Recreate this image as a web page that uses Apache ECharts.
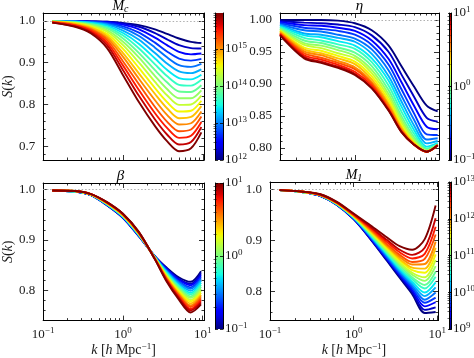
<!DOCTYPE html>
<html><head><meta charset="utf-8">
<script src="https://cdn.jsdelivr.net/npm/echarts@6/dist/echarts.min.js"></script>
<style>html,body{margin:0;padding:0;background:#fff}#c{width:474px;height:358px}</style>
</head><body><div id="c"></div>
<script>
// ---------------- data ----------------
const K = [0.13, 0.2512, 0.3981, 0.631, 1.0, 1.585, 2.512, 3.548, 5.012, 7.079, 9.55];

// panel M_c (lines ordered 10^12 -> 10^16)
const MC_CURVES = [
 [1.000,1.000,.999,.998,.995,.990,.980,.969,.958,.950,.947],
 [1.000,1.000,.999,.998,.994,.986,.971,.956,.942,.935,.934],
 [1.000,1.000,.998,.997,.991,.980,.960,.942,.926,.920,.922],
 [1.000,.999,.998,.995,.987,.972,.948,.927,.910,.905,.909],
 [1.000,.999,.997,.993,.983,.964,.936,.913,.894,.890,.897],
 [1.000,.998,.996,.991,.977,.955,.923,.898,.879,.875,.884],
 [.999,.998,.995,.988,.971,.945,.910,.883,.863,.860,.871],
 [.999,.997,.993,.985,.965,.934,.896,.868,.847,.845,.859],
 [.999,.996,.992,.982,.958,.923,.882,.853,.831,.830,.846],
 [.999,.996,.990,.978,.950,.912,.868,.837,.815,.815,.834],
 [.998,.995,.988,.974,.942,.900,.854,.822,.799,.800,.821],
 [.998,.994,.986,.969,.933,.887,.839,.806,.783,.785,.809],
 [.998,.993,.984,.964,.923,.874,.825,.791,.767,.770,.796],
 [.998,.991,.981,.959,.914,.861,.810,.775,.752,.755,.783],
 [.997,.990,.979,.954,.903,.848,.794,.759,.736,.740,.771],
 [.997,.989,.976,.948,.893,.834,.779,.744,.720,.725,.758],
 [.996,.987,.973,.942,.882,.820,.764,.728,.704,.710,.746],
 [.996,.986,.970,.935,.870,.805,.748,.712,.688,.695,.733]
];
// panel eta (lines ordered 10^-1 -> 10^1)
const ETA_CURVES = [
 [1.000,1.000,1.000,.999,.995,.984,.960,.928,.896,.866,.857],
 [.998,.996,.995,.993,.989,.976,.950,.915,.880,.847,.841],
 [.997,.992,.991,.988,.983,.968,.939,.903,.866,.833,.829],
 [.995,.988,.986,.983,.977,.961,.930,.892,.854,.821,.820],
 [.993,.984,.982,.977,.971,.954,.921,.882,.844,.813,.815],
 [.992,.979,.977,.972,.966,.947,.912,.873,.835,.807,.811],
 [.990,.976,.973,.967,.960,.940,.905,.865,.828,.802,.808],
 [.989,.972,.968,.962,.955,.934,.897,.857,.822,.799,.806],
 [.987,.968,.964,.957,.949,.928,.890,.850,.817,.797,.805],
 [.986,.964,.960,.953,.944,.922,.884,.845,.813,.796,.805],
 [.984,.961,.956,.948,.940,.917,.879,.840,.810,.795,.804],
 [.983,.957,.952,.944,.935,.912,.874,.835,.808,.794,.804],
 [.982,.954,.948,.940,.931,.907,.869,.832,.807,.794,.804],
 [.980,.951,.945,.936,.926,.903,.866,.829,.806,.794,.804],
 [.979,.948,.941,.933,.923,.900,.862,.827,.805,.794,.804],
 [.978,.945,.938,.930,.919,.897,.860,.826,.805,.794,.804],
 [.977,.942,.935,.927,.916,.894,.859,.825,.805,.794,.804],
 [.976,.940,.933,.925,.914,.893,.858,.825,.805,.794,.804]
];
// panel beta (lines ordered 10^-1 -> 10^1)
const BETA_CURVES = [
 [.998,.996,.989,.969,.944,.907,.868,.845,.826,.817,.838],
 [.998,.996,.989,.969,.944,.908,.868,.843,.823,.813,.834],
 [.998,.996,.989,.970,.945,.908,.867,.842,.821,.810,.830],
 [.998,.996,.989,.970,.945,.909,.867,.840,.818,.806,.826],
 [.998,.996,.989,.970,.946,.909,.867,.838,.816,.803,.822],
 [.998,.996,.990,.971,.946,.910,.866,.837,.813,.799,.819],
 [.998,.996,.990,.971,.947,.910,.866,.835,.810,.795,.815],
 [.998,.996,.990,.971,.947,.911,.866,.833,.808,.792,.811],
 [.998,.996,.990,.972,.948,.911,.865,.832,.805,.788,.807],
 [.998,.997,.990,.972,.948,.912,.865,.830,.803,.785,.803],
 [.998,.997,.990,.973,.949,.912,.864,.829,.800,.781,.799],
 [.998,.997,.990,.973,.949,.913,.864,.827,.798,.778,.795],
 [.998,.997,.990,.973,.950,.913,.864,.825,.795,.774,.791],
 [.998,.997,.991,.974,.950,.914,.863,.824,.792,.770,.788],
 [.998,.997,.991,.974,.951,.914,.863,.822,.790,.767,.784],
 [.998,.997,.991,.974,.951,.915,.863,.820,.787,.763,.780],
 [.998,.997,.991,.975,.952,.915,.862,.819,.785,.760,.776],
 [.998,.997,.991,.975,.952,.916,.862,.817,.782,.756,.772]
];
// panel M_1 (lines ordered 10^9 -> 10^13)
const M1_CURVES = [
 [.999,.995,.988,.970,.942,.903,.860,.827,.795,.758,.760],
 [.999,.995,.988,.970,.942,.904,.862,.830,.799,.764,.769],
 [.999,.995,.988,.971,.943,.905,.864,.833,.803,.771,.779],
 [.999,.995,.988,.971,.943,.907,.866,.835,.807,.778,.788],
 [.999,.995,.989,.971,.944,.908,.868,.838,.811,.784,.798],
 [.999,.995,.989,.971,.945,.909,.871,.841,.815,.791,.808],
 [.999,.995,.989,.972,.945,.911,.873,.844,.819,.798,.818],
 [.999,.995,.989,.972,.946,.912,.875,.847,.824,.806,.829],
 [.999,.995,.989,.972,.946,.913,.877,.851,.828,.813,.839],
 [.999,.995,.989,.973,.947,.915,.880,.854,.833,.821,.850],
 [.999,.995,.990,.973,.947,.916,.882,.857,.837,.828,.862],
 [.999,.996,.990,.973,.948,.918,.885,.861,.842,.837,.873],
 [.999,.996,.990,.974,.949,.919,.888,.864,.847,.845,.886],
 [.999,.996,.990,.974,.949,.921,.890,.868,.853,.854,.898],
 [.999,.996,.990,.974,.950,.923,.893,.872,.858,.864,.912],
 [.999,.996,.990,.975,.951,.925,.897,.877,.865,.874,.927],
 [.999,.996,.991,.975,.952,.927,.901,.882,.872,.886,.944],
 [.999,.996,.991,.976,.953,.930,.906,.889,.882,.903,.969]
];

const X_TICKS = [0.1, 1, 10];
const Y_TICKS_MC = [0.7, 0.8, 0.9, 1.0];
const Y_TICKS_ETA = [0.80, 0.85, 0.90, 0.95, 1.00];
const Y_TICKS_BETA = [0.8, 0.9, 1.0];
const Y_TICKS_M1 = [0.8, 0.9, 1.0];
const CB_TICKS_MC = [12, 13, 14, 15];      // log10 M_c
const CB_TICKS_ETA = [-1, 0, 1];           // log10 eta
const CB_TICKS_BETA = [-1, 0, 1];          // log10 beta
const CB_TICKS_M1 = [9, 10, 11, 12, 13];   // log10 M_1
const REF_LINE = 1.0;

// ---------------- styling ----------------
const FONT = '"Liberation Serif","DejaVu Serif",serif';
const TXT = '#1a1a1a';
function jet(t) {
  function seg(pts) {
    for (let i = 1; i < pts.length; i++) {
      if (t <= pts[i][0]) {
        const a = pts[i-1], b = pts[i];
        return a[1] + (b[1]-a[1]) * (t-a[0]) / (b[0]-a[0]);
      }
    }
    return pts[pts.length-1][1];
  }
  const r = seg([[0,0],[0.35,0],[0.66,1],[0.89,1],[1,0.5]]);
  const g = seg([[0,0],[0.125,0],[0.375,1],[0.64,1],[0.91,0],[1,0]]);
  const b = seg([[0,0.5],[0.11,1],[0.34,1],[0.65,0],[1,0]]);
  return 'rgb(' + Math.round(r*255) + ',' + Math.round(g*255) + ',' + Math.round(b*255) + ')';
}
const JET_STOPS = [];
for (let i = 0; i <= 40; i++) JET_STOPS.push({offset: i/40, color: jet(i/40)});

const RICH = {
  b: {fontFamily: FONT, fontSize: 13, color: TXT},
  s: {fontFamily: FONT, fontSize: 9, color: TXT, padding: [0, 0, 7, 0]},
  i: {fontFamily: FONT, fontSize: 14, fontStyle: 'italic', color: TXT},
  n: {fontFamily: FONT, fontSize: 14, color: TXT},
  sub: {fontFamily: FONT, fontSize: 10, fontStyle: 'italic', color: TXT, padding: [6, 0, 0, 0]},
  eta: {fontFamily: FONT, fontSize: 15, fontStyle: 'italic', color: TXT}
};
function pow10(e) { return '{b|10}{s|' + (e < 0 ? '\u2212' : '') + Math.abs(e) + '}'; }

const PANELS = [
  {curves: MC_CURVES, yTicks: Y_TICKS_MC, yDec: 1, yMinorStep: 0.02,
   grid: {left: 37, top: 13, width: 167, height: 147}, xMin: 0.1, xMax: 10.3, yMin: 0.667, yMax: 1.019,
   cb: {left: 215, top: 13, width: 8, height: 147}, cbRange: [12, 15.97], cbTicks: CB_TICKS_MC,
   title: '{i|M}{sub|c}', xName: false, yName: true},
  {curves: ETA_CURVES, yTicks: Y_TICKS_ETA, yDec: 2, yMinorStep: 0.01,
   grid: {left: 280, top: 13, width: 159, height: 147}, xMin: 0.13, xMax: 9.9, yMin: 0.781, yMax: 1.011,
   cb: {left: 449, top: 13, width: 8, height: 147}, cbRange: [-1, 1], cbTicks: CB_TICKS_ETA,
   title: '{eta|\u03b7}', xName: false, yName: false},
  {curves: BETA_CURVES, yTicks: Y_TICKS_BETA, yDec: 1, yMinorStep: 0.02,
   grid: {left: 37, top: 183, width: 167, height: 146}, xMin: 0.1, xMax: 10.4, yMin: 0.74, yMax: 1.013,
   cb: {left: 215, top: 183, width: 8, height: 146}, cbRange: [-1, 1], cbTicks: CB_TICKS_BETA,
   title: '{eta|\u03b2}', xName: true, yName: true},
  {curves: M1_CURVES, yTicks: Y_TICKS_M1, yDec: 1, yMinorStep: 0.02,
   grid: {left: 270, top: 182, width: 168, height: 147}, xMin: 0.1, xMax: 10.2, yMin: 0.743, yMax: 1.015,
   cb: {left: 449, top: 182, width: 8, height: 147}, cbRange: [9, 13], cbTicks: CB_TICKS_M1,
   title: '{i|M}{sub|1}', xName: true, yName: false}
];

const X_MINOR = [];
[0.1, 1].forEach(d => { for (let m = 2; m <= 9; m++) X_MINOR.push(+(m*d).toFixed(3)); });

function base(extra) {
  return Object.assign({
    silent: true,
    splitLine: {show: false},
    axisLine: {show: true, onZero: false, lineStyle: {color: '#000', width: 1}},
    axisTick: {show: true, inside: true, length: 5, lineStyle: {color: '#000', width: 0.8}},
    axisLabel: {show: false},
    axisPointer: {show: false}
  }, extra);
}

const grids = [], xAxis = [], yAxis = [], series = [], graphic = [];

PANELS.forEach((p, g) => {
  grids.push(Object.assign({show: false}, p.grid));
  const xi = xAxis.length, yi = yAxis.length;
  const xb = {gridIndex: g, type: 'log', logBase: 10, min: p.xMin, max: p.xMax};
  xAxis.push(base(Object.assign({}, xb, {
    position: 'bottom',
    axisTick: {show: true, inside: true, length: 5, customValues: X_TICKS, lineStyle: {color: '#000', width: 0.8}},
    axisLabel: {show: p.xName, customValues: X_TICKS, margin: 6, formatter: v => pow10(Math.round(Math.log10(v))), rich: RICH},
    name: p.xName ? '{i|k} {n|[}{i|h} {n|Mpc}{s|\u22121}{n|]}' : '',
    nameLocation: 'middle', nameGap: 21, nameTextStyle: {rich: RICH}
  })));
  xAxis.push(base(Object.assign({}, xb, {position: 'top',
    axisTick: {show: true, inside: true, length: 5, customValues: X_TICKS, lineStyle: {color: '#000', width: 0.8}}})));
  xAxis.push(base(Object.assign({}, xb, {position: 'bottom', axisLine: {show: false},
    axisTick: {show: true, inside: true, length: 2.5, customValues: X_MINOR, lineStyle: {color: '#000', width: 0.8}}})));
  xAxis.push(base(Object.assign({}, xb, {position: 'top', axisLine: {show: false},
    axisTick: {show: true, inside: true, length: 2.5, customValues: X_MINOR, lineStyle: {color: '#000', width: 0.8}}})));

  const yMinor = [];
  for (let v = Math.ceil(p.yMin / p.yMinorStep) * p.yMinorStep; v <= p.yMax + 1e-9; v += p.yMinorStep) {
    const r = +v.toFixed(3);
    if (!p.yTicks.some(t => Math.abs(t - r) < 1e-6)) yMinor.push(r);
  }
  const yb = {gridIndex: g, type: 'value', min: p.yMin, max: p.yMax};
  yAxis.push(base(Object.assign({}, yb, {
    position: 'left',
    axisTick: {show: true, inside: true, length: 5, customValues: p.yTicks, lineStyle: {color: '#000', width: 0.8}},
    axisLabel: {show: true, customValues: p.yTicks, margin: 8, formatter: v => v.toFixed(p.yDec),
      fontFamily: FONT, fontSize: 13, color: TXT},
    name: p.yName ? '{i|S}{n|(}{i|k}{n|)}' : '',
    nameLocation: 'middle', nameRotate: 90, nameGap: 24, nameTextStyle: {rich: RICH}
  })));
  yAxis.push(base(Object.assign({}, yb, {position: 'right',
    axisTick: {show: true, inside: true, length: 5, customValues: p.yTicks, lineStyle: {color: '#000', width: 0.8}}})));
  yAxis.push(base(Object.assign({}, yb, {position: 'left', axisLine: {show: false},
    axisTick: {show: true, inside: true, length: 2.5, customValues: yMinor, lineStyle: {color: '#000', width: 0.8}}})));
  yAxis.push(base(Object.assign({}, yb, {position: 'right', axisLine: {show: false},
    axisTick: {show: true, inside: true, length: 2.5, customValues: yMinor, lineStyle: {color: '#000', width: 0.8}}})));

  const n = p.curves.length;
  p.curves.forEach((vals, i) => {
    const s = {
      type: 'line', xAxisIndex: xi, yAxisIndex: yi, silent: true, animation: false,
      data: K.map((k, j) => [k, vals[j]]), smooth: 0.3, symbol: 'none', clip: true,
      lineStyle: {width: 1.9, color: jet(i / (n - 1))}, z: 3
    };
    if (i === 0) {
      s.markLine = {silent: true, symbol: ['none', 'none'], animation: false, label: {show: false},
        lineStyle: {type: [1.5, 2], color: '#b0b0b0', width: 1}, data: [{yAxis: REF_LINE}], z: 1};
    }
    series.push(s);
  });

  graphic.push({type: 'text', x: p.grid.left + p.grid.width / 2, y: p.grid.top - 7, silent: true,
    style: {text: p.title, rich: RICH, align: 'center', verticalAlign: 'middle'}});
});

// colorbars
PANELS.forEach((p, c) => {
  const gi = grids.length;
  grids.push(Object.assign({show: true, borderWidth: 0,
    backgroundColor: {type: 'linear', x: 0, y: 1, x2: 0, y2: 0, colorStops: JET_STOPS}}, p.cb));
  xAxis.push({gridIndex: gi, type: 'value', show: false, min: 0, max: 1});
  const minor = [];
  for (let e = Math.floor(p.cbRange[0]); e < p.cbRange[1]; e++)
    for (let m = 2; m <= 9; m++) { const v = e + Math.log10(m); if (v < p.cbRange[1]) minor.push(v); }
  const cbb = {gridIndex: gi, type: 'value', min: p.cbRange[0], max: p.cbRange[1]};
  yAxis.push(base(Object.assign({}, cbb, {position: 'right',
    axisTick: {show: true, inside: true, length: 3, customValues: p.cbTicks, lineStyle: {color: '#000', width: 0.8}},
    axisLabel: {show: true, customValues: p.cbTicks, margin: 2, formatter: v => pow10(Math.round(v)), rich: RICH}})));
  yAxis.push(base(Object.assign({}, cbb, {position: 'left',
    axisTick: {show: true, inside: true, length: 3, customValues: p.cbTicks, lineStyle: {color: '#000', width: 0.8}}})));
  yAxis.push(base(Object.assign({}, cbb, {position: 'right', axisLine: {show: false},
    axisTick: {show: true, inside: true, length: 1.5, customValues: minor, lineStyle: {color: '#000', width: 0.6}}})));
  yAxis.push(base(Object.assign({}, cbb, {position: 'left', axisLine: {show: false},
    axisTick: {show: true, inside: true, length: 1.5, customValues: minor, lineStyle: {color: '#000', width: 0.6}}})));
});

const chart = echarts.init(document.getElementById('c'), null, {renderer: 'canvas'});
chart.setOption({
  animation: false,
  backgroundColor: '#fff',
  grid: grids, xAxis: xAxis, yAxis: yAxis, series: series, graphic: graphic
});
</script></body></html>
